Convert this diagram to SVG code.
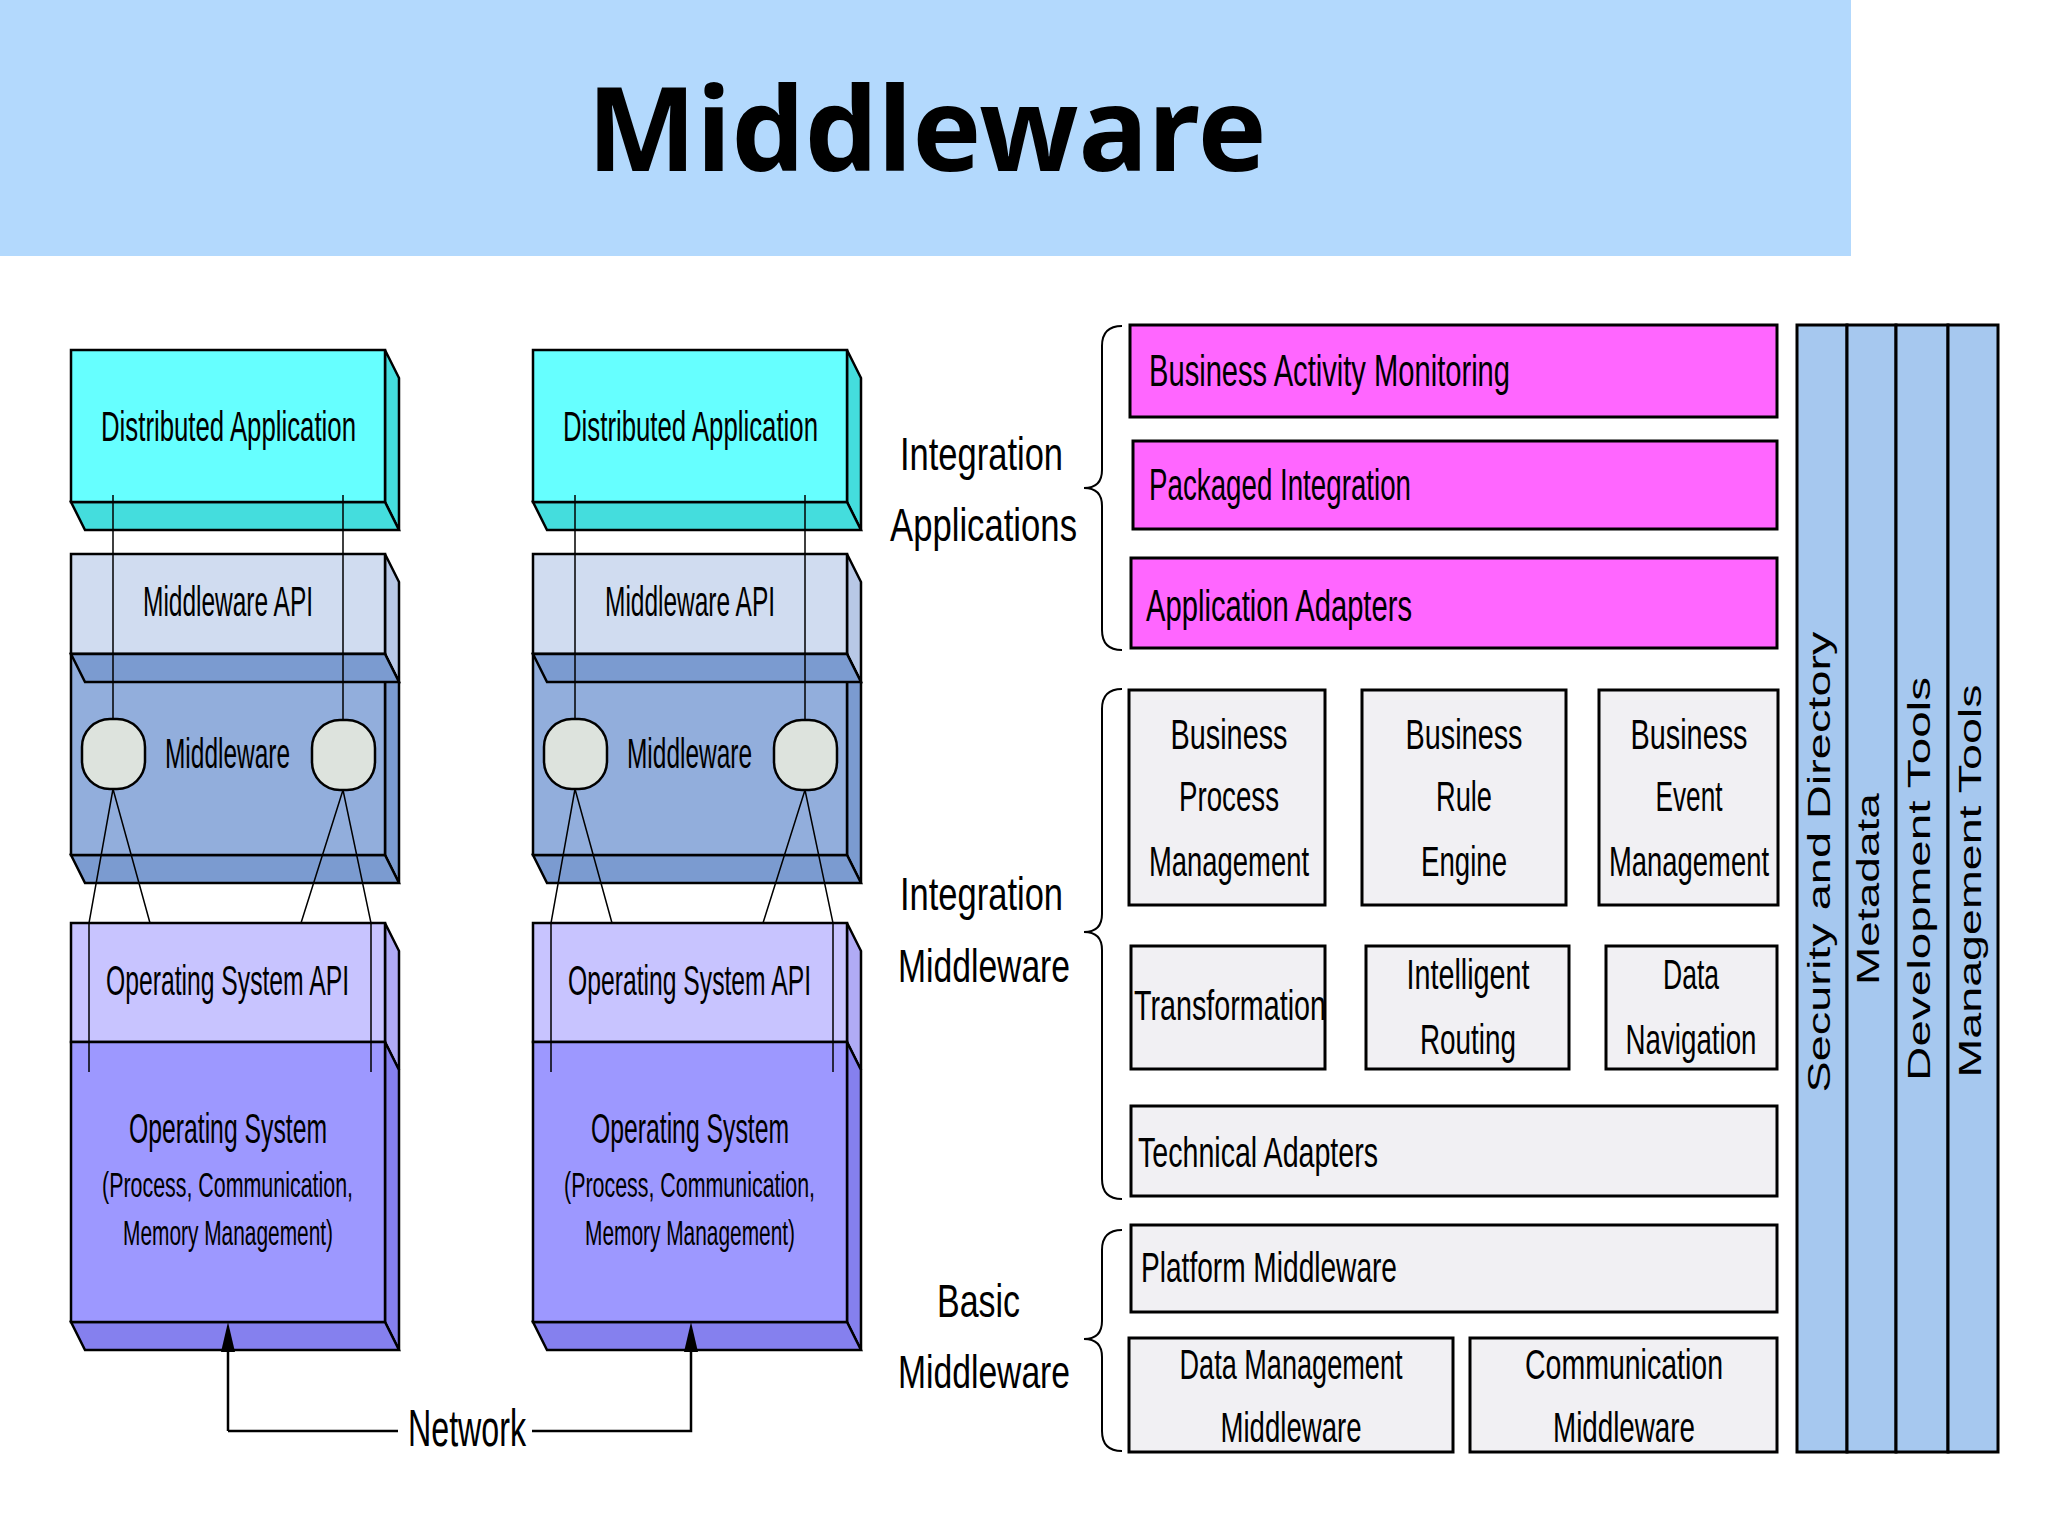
<svg xmlns="http://www.w3.org/2000/svg" width="2048" height="1536" viewBox="0 0 2048 1536">
<style>
.n{font-family:"Liberation Sans Narrow","Liberation Sans",Arial,sans-serif;fill:#000}
.s{stroke:#000;stroke-width:2.5}
.ln{stroke:#000;stroke-width:1.5;fill:none}
.cy{fill:#66ffff}.cyd{fill:#44dddd}
.ma{fill:#d0dcf0}.mad{fill:#b8c8e6}
.mw{fill:#92aedc}.mwd{fill:#7b9bd0}
.oa{fill:#c8c4ff}.oad{fill:#b0abf5}
.os{fill:#9d98ff}.osd{fill:#8580ee}
.mg{fill:#ff66ff;stroke:#000;stroke-width:3}
.gb{fill:#f1f0f3;stroke:#000;stroke-width:3}
.bar{fill:#a6c8ef;stroke:#000;stroke-width:3}
.br{fill:none;stroke:#000;stroke-width:2}
</style>
<defs>
<g id="stack">
 <polygon class="cyd s" points="385,350 399,378 399,530 385,502"/>
 <polygon class="cyd s" points="71,502 385,502 399,530 85,530"/>
 <rect class="cy s" x="71" y="350" width="314" height="152"/>
 <polygon class="mad s" points="385,554 399,582 399,682 385,654"/>
 <rect class="ma s" x="71" y="554" width="314" height="100"/>
 <polygon class="mwd s" points="385,654 399,682 399,883 385,855"/>
 <polygon class="mwd s" points="71,855 385,855 399,883 85,883"/>
 <rect class="mw s" x="71" y="654" width="314" height="201"/>
 <polygon class="mwd s" points="71,654 385,654 399,682 85,682"/>
 <polygon class="oad s" points="385,923 399,951 399,1070 385,1042"/>
 <rect class="oa s" x="71" y="923" width="314" height="119"/>
 <polygon class="osd s" points="385,1042 399,1070 399,1350 385,1322"/>
 <polygon class="osd s" points="71,1322 385,1322 399,1350 85,1350"/>
 <rect class="os s" x="71" y="1042" width="314" height="280"/>
 <rect x="82" y="719" width="63" height="70" rx="28" fill="#dde3dd" class="s"/>
 <rect x="312" y="720" width="63" height="70" rx="28" fill="#dde3dd" class="s"/>
 <path class="ln" d="M113,495 V719 M343,495 V720 M113,789 L89,923 V1072 M113,789 L150,923 M343,790 L301,923 M343,790 L371,923 V1072"/>
 <text class="n" x="101" y="441" font-size="42" textLength="255" lengthAdjust="spacingAndGlyphs">Distributed Application</text>
 <text class="n" x="143" y="616" font-size="42" textLength="170" lengthAdjust="spacingAndGlyphs">Middleware API</text>
 <text class="n" x="165" y="768" font-size="42" textLength="125" lengthAdjust="spacingAndGlyphs">Middleware</text>
 <text class="n" x="106" y="995" font-size="42" textLength="243" lengthAdjust="spacingAndGlyphs">Operating System API</text>
 <text class="n" x="129" y="1143" font-size="42" textLength="198" lengthAdjust="spacingAndGlyphs">Operating System</text>
 <text class="n" x="102" y="1197" font-size="35" textLength="251" lengthAdjust="spacingAndGlyphs">(Process, Communication,</text>
 <text class="n" x="123" y="1245" font-size="35" textLength="210" lengthAdjust="spacingAndGlyphs">Memory Management)</text>
</g>
</defs>
<rect x="0" y="0" width="1851" height="256" fill="#b3d9fd"/>
<text x="927" y="171" font-family="'Noto Sans','Open Sans',sans-serif" font-weight="bold" font-size="116" text-anchor="middle">Middleware</text>

<g id="column-left"><use href="#stack"/></g>
<g id="column-right" transform="translate(462,0)"><use href="#stack"/></g>

<g id="connectors">
 <path d="M228,1431 V1345 M228,1431 H398 M532,1431 H691 V1345" class="s" fill="none"/>
 <polygon points="228,1322 221,1352 235,1352" fill="#000"/>
 <polygon points="691,1322 684,1352 698,1352" fill="#000"/>
</g>
<g id="network"><text class="n" x="408" y="1446" font-size="52" textLength="118" lengthAdjust="spacingAndGlyphs">Network</text></g>

<g id="labels" class="n" font-size="46">
 <text x="900" y="470" textLength="163" lengthAdjust="spacingAndGlyphs">Integration</text>
 <text x="890" y="541" textLength="187" lengthAdjust="spacingAndGlyphs">Applications</text>
 <text x="900" y="910" textLength="163" lengthAdjust="spacingAndGlyphs">Integration</text>
 <text x="898" y="982" textLength="172" lengthAdjust="spacingAndGlyphs">Middleware</text>
 <text x="937" y="1317" textLength="83" lengthAdjust="spacingAndGlyphs">Basic</text>
 <text x="898" y="1388" textLength="172" lengthAdjust="spacingAndGlyphs">Middleware</text>
</g>
<g id="braces">
 <path class="br" d="M1122,326 Q1102,326 1102,346 V470 Q1102,488 1084,488 Q1102,488 1102,506 V630 Q1102,650 1122,650"/>
 <path class="br" d="M1122,689 Q1102,689 1102,709 V914 Q1102,932 1084,932 Q1102,932 1102,950 V1179 Q1102,1199 1122,1199"/>
 <path class="br" d="M1122,1230 Q1102,1230 1102,1250 V1321 Q1102,1339 1084,1339 Q1102,1339 1102,1357 V1431 Q1102,1451 1122,1451"/>
</g>

<g id="bam"><rect class="mg" x="1130" y="325" width="647" height="92"/><text class="n" x="1149" y="386" font-size="44" textLength="361" lengthAdjust="spacingAndGlyphs">Business Activity Monitoring</text></g>
<g id="packaged"><rect class="mg" x="1133" y="441" width="644" height="88"/><text class="n" x="1149" y="500" font-size="44" textLength="262" lengthAdjust="spacingAndGlyphs">Packaged Integration</text></g>
<g id="appadapters"><rect class="mg" x="1131" y="558" width="646" height="90"/><text class="n" x="1146" y="621" font-size="44" textLength="266" lengthAdjust="spacingAndGlyphs">Application Adapters</text></g>

<g id="bpm"><rect class="gb" x="1129" y="690" width="196" height="215"/><text class="n" font-size="42" text-anchor="middle"><tspan x="1229" y="749" textLength="117" lengthAdjust="spacingAndGlyphs">Business</tspan><tspan x="1229" y="811" textLength="100" lengthAdjust="spacingAndGlyphs">Process</tspan><tspan x="1229" y="876" textLength="160" lengthAdjust="spacingAndGlyphs">Management</tspan></text></g>
<g id="bre"><rect class="gb" x="1362" y="690" width="204" height="215"/><text class="n" font-size="42" text-anchor="middle"><tspan x="1464" y="749" textLength="117" lengthAdjust="spacingAndGlyphs">Business</tspan><tspan x="1464" y="811" textLength="56" lengthAdjust="spacingAndGlyphs">Rule</tspan><tspan x="1464" y="876" textLength="86" lengthAdjust="spacingAndGlyphs">Engine</tspan></text></g>
<g id="bem"><rect class="gb" x="1599" y="690" width="179" height="215"/><text class="n" font-size="42" text-anchor="middle"><tspan x="1689" y="749" textLength="117" lengthAdjust="spacingAndGlyphs">Business</tspan><tspan x="1689" y="811" textLength="67" lengthAdjust="spacingAndGlyphs">Event</tspan><tspan x="1689" y="876" textLength="160" lengthAdjust="spacingAndGlyphs">Management</tspan></text></g>

<g id="transformation"><rect class="gb" x="1131" y="946" width="194" height="123"/><text class="n" x="1134" y="1020" font-size="42" textLength="192" lengthAdjust="spacingAndGlyphs">Transformation</text></g>
<g id="routing"><rect class="gb" x="1366" y="946" width="203" height="123"/><text class="n" font-size="42" text-anchor="middle"><tspan x="1468" y="989" textLength="123" lengthAdjust="spacingAndGlyphs">Intelligent</tspan><tspan x="1468" y="1054" textLength="96" lengthAdjust="spacingAndGlyphs">Routing</tspan></text></g>
<g id="datanav"><rect class="gb" x="1606" y="946" width="171" height="123"/><text class="n" font-size="42" text-anchor="middle"><tspan x="1691" y="989" textLength="56" lengthAdjust="spacingAndGlyphs">Data</tspan><tspan x="1691" y="1054" textLength="131" lengthAdjust="spacingAndGlyphs">Navigation</tspan></text></g>

<g id="techadapters"><rect class="gb" x="1131" y="1106" width="646" height="90"/><text class="n" x="1138" y="1167" font-size="42" textLength="240" lengthAdjust="spacingAndGlyphs">Technical Adapters</text></g>
<g id="platform"><rect class="gb" x="1131" y="1225" width="646" height="87"/><text class="n" x="1141" y="1282" font-size="42" textLength="256" lengthAdjust="spacingAndGlyphs">Platform Middleware</text></g>
<g id="datamgmt"><rect class="gb" x="1129" y="1338" width="324" height="114"/><text class="n" font-size="42" text-anchor="middle"><tspan x="1291" y="1379" textLength="223" lengthAdjust="spacingAndGlyphs">Data Management</tspan><tspan x="1291" y="1442" textLength="141" lengthAdjust="spacingAndGlyphs">Middleware</tspan></text></g>
<g id="commmw"><rect class="gb" x="1470" y="1338" width="307" height="114"/><text class="n" font-size="42" text-anchor="middle"><tspan x="1624" y="1379" textLength="198" lengthAdjust="spacingAndGlyphs">Communication</tspan><tspan x="1624" y="1442" textLength="142" lengthAdjust="spacingAndGlyphs">Middleware</tspan></text></g>

<g id="bars" font-family="'Liberation Sans',Arial,sans-serif" font-size="31" text-anchor="middle">
 <rect class="bar" x="1797" y="325" width="50" height="1127"/>
 <rect class="bar" x="1847" y="325" width="49" height="1127"/>
 <rect class="bar" x="1896" y="325" width="52" height="1127"/>
 <rect class="bar" x="1948" y="325" width="50" height="1127"/>
 <text transform="translate(1830,862) rotate(-90)" textLength="461" lengthAdjust="spacingAndGlyphs">Security and Directory</text>
 <text transform="translate(1879,889) rotate(-90)" textLength="192" lengthAdjust="spacingAndGlyphs">Metadata</text>
 <text transform="translate(1930,879) rotate(-90)" textLength="404" lengthAdjust="spacingAndGlyphs">Development Tools</text>
 <text transform="translate(1981,881) rotate(-90)" textLength="393" lengthAdjust="spacingAndGlyphs">Management Tools</text>
</g>
</svg>
